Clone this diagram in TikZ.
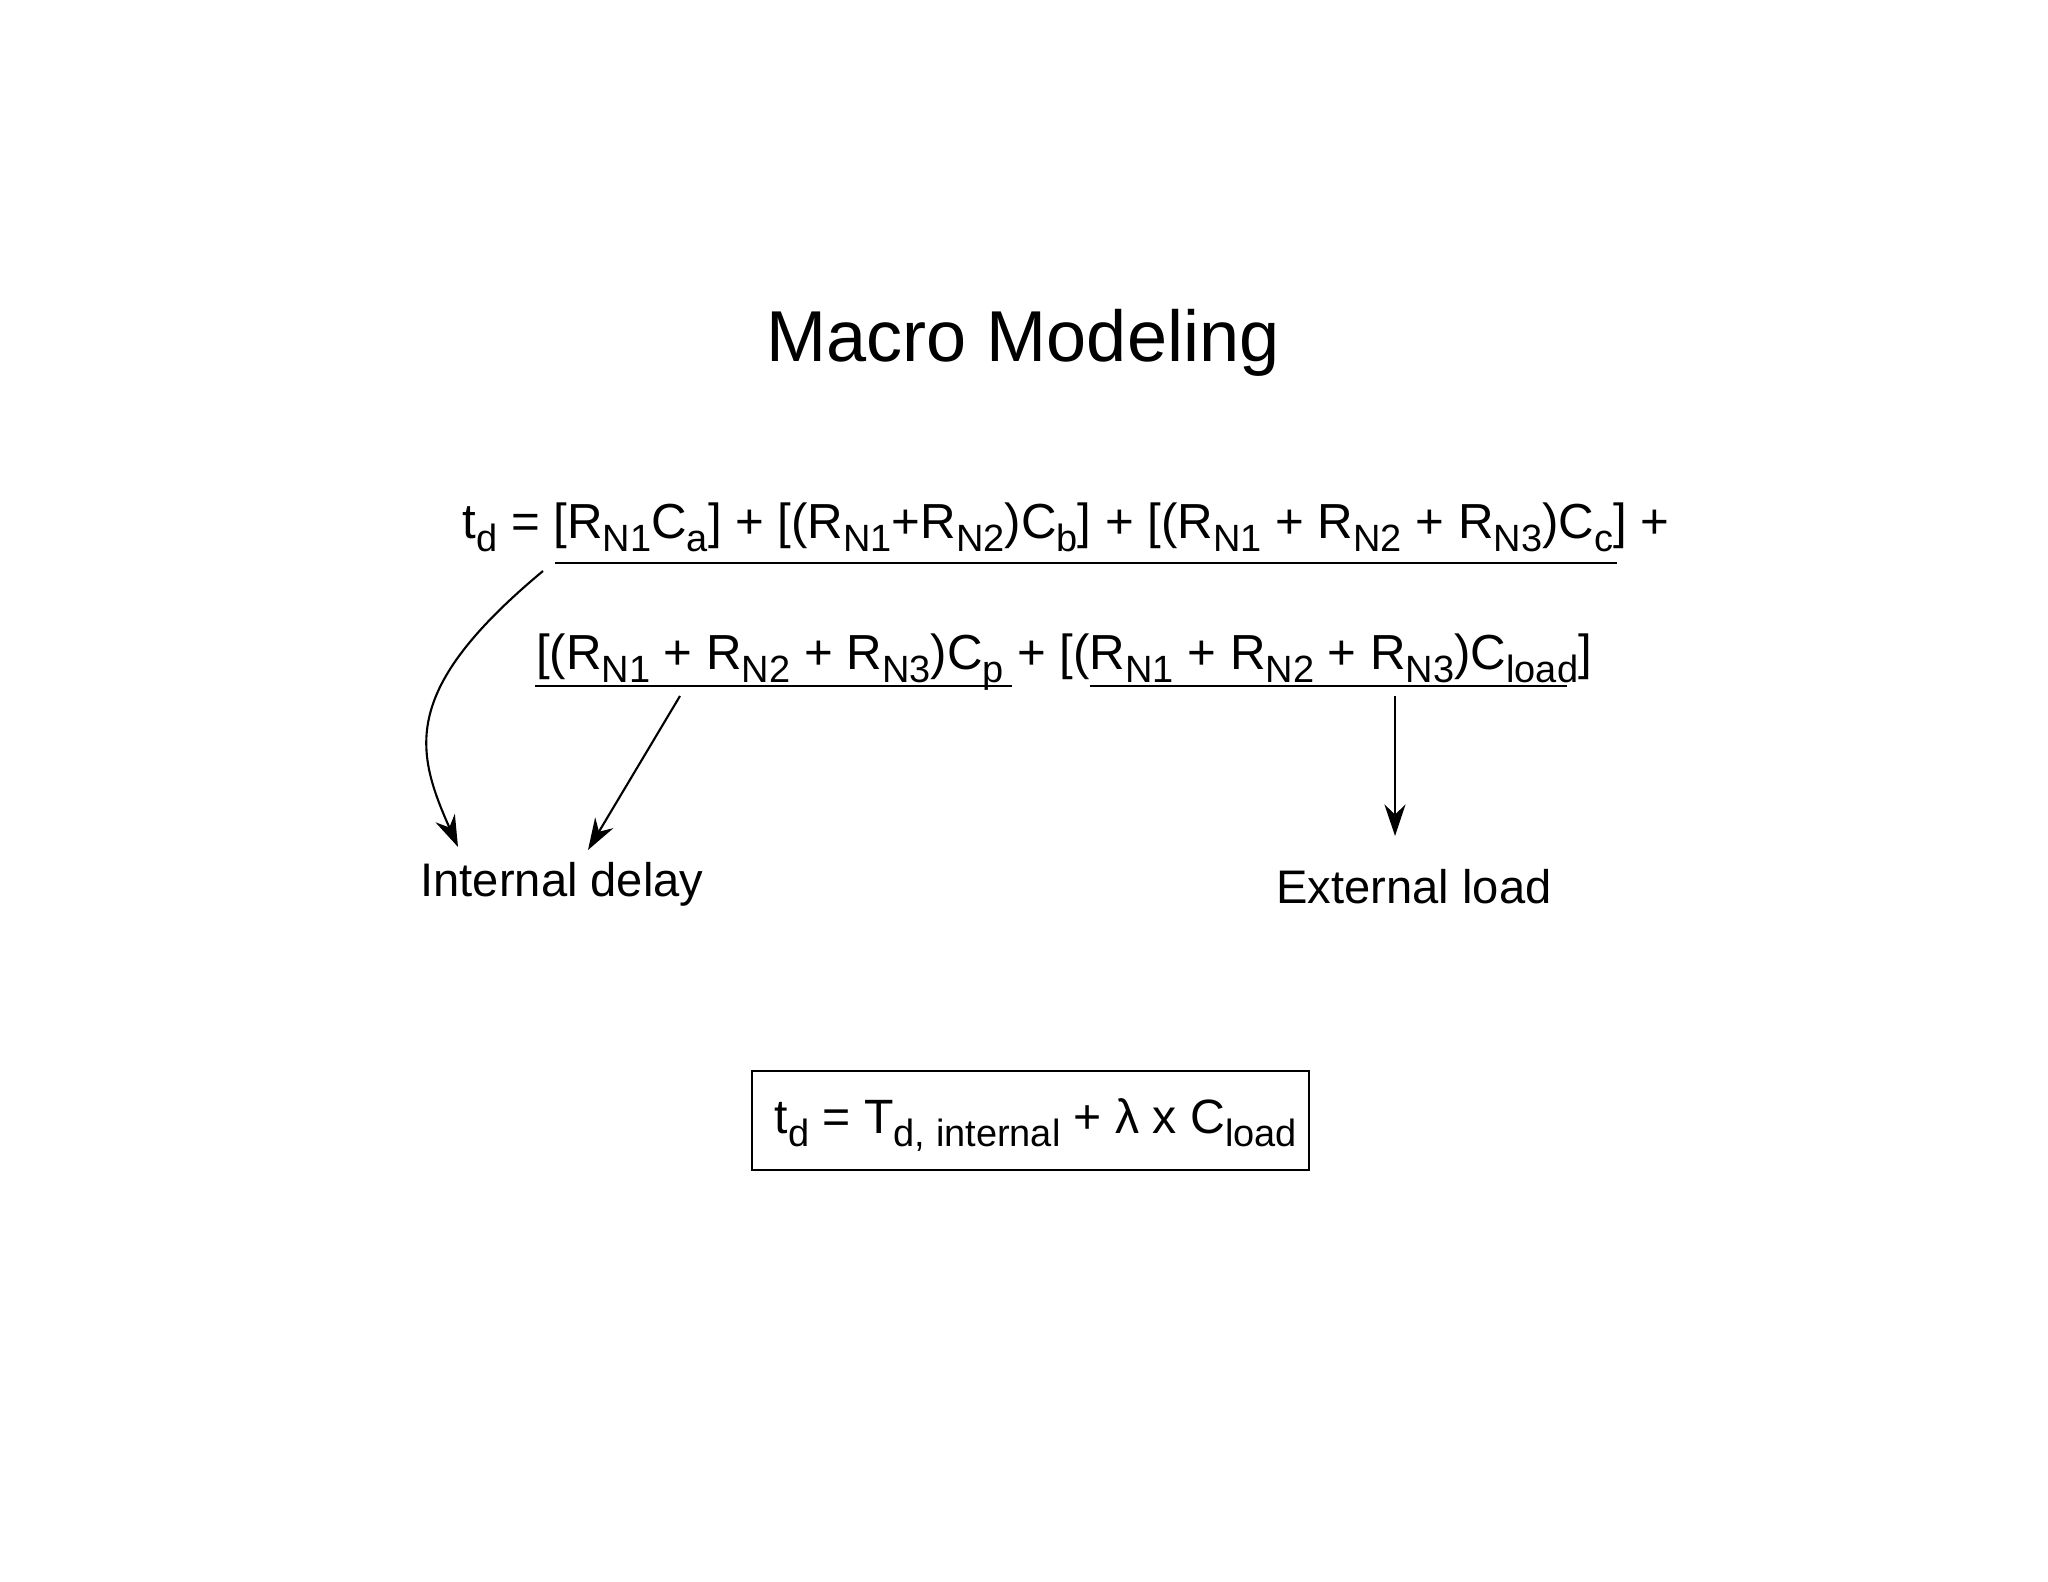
\documentclass[tikz,border=0pt]{standalone}
\usetikzlibrary{arrows.meta}
\usepackage{fontspec}
\setmainfont{Liberation Sans}
\newcommand{\sub}[1]{\raisebox{-0.5ex}{\fontsize{10.8}{13}\selectfont #1}}
\newcommand{\bsub}[1]{\raisebox{-0.5ex}{\fontsize{10.8}{13}\selectfont #1}}
\begin{document}
\begin{tikzpicture}[x=0.01cm,y=-0.01cm,
  eq/.style={inner sep=0pt,anchor=base},
  lbl/.style={inner sep=0pt,font=\fontsize{13.4}{16}\selectfont},
  arr/.style={-{Stealth[length=9pt,width=6pt]},line width=0.6pt},
  ul/.style={line width=0.8pt}]
\useasboundingbox (0,0) rectangle (2048,1582);
\node[inner sep=0pt,font=\fontsize{20.5}{24}\selectfont] (title) at (1023,343) {Macro Modeling};
\node[eq,font=\fontsize{14}{17}\selectfont] (l1) at (1066,538) {t\sub{d} = [R\sub{N1}C\sub{a}] + [(R\sub{N1}+R\sub{N2})C\sub{b}] + [(R\sub{N1} + R\sub{N2} + R\sub{N3})C\sub{c}] +};
\node[eq,font=\fontsize{14}{17}\selectfont] (l2) at (1064,669) {[(R\sub{N1} + R\sub{N2} + R\sub{N3})C\sub{p} + [(R\sub{N1} + R\sub{N2} + R\sub{N3})C\sub{load}]};
\coordinate (u1a) at (555,563); \coordinate (u1b) at (1617,563);
\coordinate (u2a) at (535,686); \coordinate (u2b) at (1012,686);
\coordinate (u3a) at (1090,686); \coordinate (u3b) at (1567,686);
\draw[ul] (u1a) -- (u1b);
\draw[ul] (u2a) -- (u2b);
\draw[ul] (u3a) -- (u3b);
\node[lbl] (int) at (562,884) {Internal delay};
\node[lbl] (ext) at (1414,887) {External load};
\coordinate (s1) at (543,571); \coordinate (e1) at (458,847);
\coordinate (s2) at (680,696); \coordinate (e2) at (588,850);
\coordinate (s3) at (1395,696); \coordinate (e3) at (1395,836);
\draw[arr] (s1) .. controls (400,690) and (415,750) .. (e1);
\draw[arr] (s2) -- (e2);
\draw[arr] (s3) -- (e3);
\coordinate (b1) at (752,1071); \coordinate (b2) at (1309,1170);
\draw[line width=0.8pt] (b1) rectangle (b2);
\node[inner sep=0pt,font=\fontsize{13.7}{17}\selectfont] (f) at (1036,1125) {t\bsub{d} = T\bsub{d, internal} + λ x C\bsub{load}};
\end{tikzpicture}
\end{document}
